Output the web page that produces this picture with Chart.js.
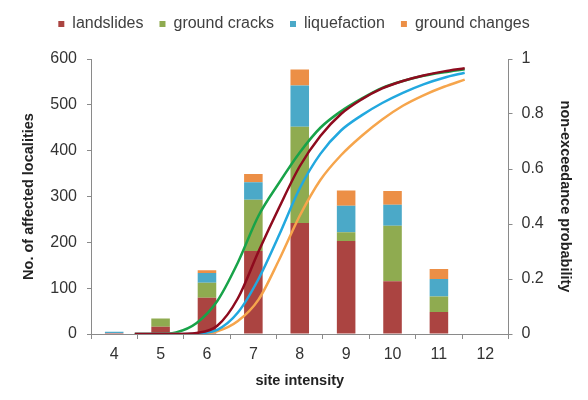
<!DOCTYPE html>
<html>
<head>
<meta charset="utf-8">
<title>site intensity</title>
<script src="https://cdn.jsdelivr.net/npm/chart.js@4.4.1/dist/chart.umd.min.js"></script>
<style>
html,body{margin:0;padding:0;background:#fff;}
#box{width:588px;height:400px;}
</style>
</head>
<body>
<div id="box"><canvas id="char0" width="588" height="400"></canvas></div>
<script>
// bars: affected localities per site intensity
var intensity = ['4','5','6','7','8','9','10','11','12'];
var landslides = [2,16,79,181,242,203,115,48,0];
var groundCracks = [0,18,33,112,210,19,121,34,0];
var liquefaction = [3,0,21,38,90,58,46,38,0];
var groundChanges = [0,0,6,18,35,33,30,22,0];

// curves: non-exceedance probability, read every half step
var curveX = [4,4.5,5,5.5,6,6.5,7,7.5,8,8.5,9,9.5,10,10.5,11,11.5,12];
var pLandslides = [0,0,0,0.004,0.03,0.13,0.30,0.46,0.61,0.72,0.80,0.853,0.893,0.92,0.94,0.955,0.966];
var pCracks = [0,0,0.006,0.04,0.12,0.26,0.43,0.55,0.66,0.75,0.81,0.856,0.895,0.92,0.939,0.952,0.963];
var pLiquefaction = [0,0,0,0.002,0.015,0.078,0.20,0.36,0.53,0.655,0.74,0.795,0.84,0.877,0.908,0.932,0.95];
var pChanges = [0,0,0,0.002,0.01,0.047,0.125,0.27,0.43,0.56,0.65,0.72,0.78,0.83,0.868,0.899,0.925];

Chart.defaults.font.family = "'Liberation Sans', Arial, sans-serif";

var pts = function(ys){  //把曲线值和x配对
    var a = [];
    for(var i=0;i<curveX.length;i++){
        a.push({x: curveX[i], y: ys[i]});
    }
    return a;
}

var axisGrey = '#8a8a8a';
var titleFont = {size: 14.5, weight: 'bold'};

//legend needs more room under it
var legendRoom = {
    id: 'legendRoom',
    beforeInit: function(chart){
        var fit = chart.legend.fit;
        chart.legend.fit = function(){
            fit.call(this);
            this.height += 17;
        };
    }
};

function bar(label, data, color){
    return {type: 'bar', label: label, data: data, backgroundColor: color, borderWidth: 0,
        stack: 'all', grouped: false,
        xAxisID: 'x', yAxisID: 'y', order: 2, barPercentage: 0.4, categoryPercentage: 1};
}
function curve(label, data, color){
    return {type: 'line', label: label, data: pts(data), borderColor: color, backgroundColor: color,
        borderWidth: 2.5, pointRadius: 0, fill: false, cubicInterpolationMode: 'monotone',
        xAxisID: 'xl', yAxisID: 'y1', order: 1};
}

var chart = new Chart(document.getElementById('char0'), {
    type: 'bar',
    data: {
        labels: intensity,
        datasets: [
            bar('landslides', landslides, '#ab4441'),
            bar('ground cracks', groundCracks, '#8fab50'),
            bar('liquefaction', liquefaction, '#4ba9c8'),
            bar('ground changes', groundChanges, '#ec8f46'),
            curve('landslides curve', pLandslides, '#8e0b1e'),
            curve('liquefaction curve', pLiquefaction, '#22a8df'),
            curve('ground changes curve', pChanges, '#f6a54c'),
            curve('ground cracks curve', pCracks, '#18a349')
        ]
    },
    options: {
        responsive: false,
        animation: false,
        layout: {padding: 0},
        plugins: {
            legend: {
                position: 'top',
                labels: {
                    boxWidth: 6, boxHeight: 6, padding: 16, color: '#404040',
                    font: {size: 16},
                    filter: function(item){ return item.datasetIndex < 4; }
                }
            },
            tooltip: {enabled: false}
        },
        scales: {
            x: {
                stacked: true, offset: true,
                grid: {offset: true, drawOnChartArea: false, tickLength: 5, color: axisGrey},
                border: {color: axisGrey},
                ticks: {color: '#333', font: {size: 16}, padding: 6},
                title: {display: true, text: 'site intensity', font: titleFont, color: '#222', padding: {top: 0, bottom: 10}},
                afterFit: function(s){ s.height = 66; }
            },
            xl: {type: 'linear', display: false, min: 3.5, max: 12.5},
            y: {
                stacked: true, min: 0, max: 600,
                ticks: {stepSize: 100, color: '#333', font: {size: 16}, padding: 10},
                grid: {drawOnChartArea: false, tickLength: 4, color: axisGrey},
                border: {color: axisGrey},
                title: {display: true, text: 'No. of affected localities', font: titleFont, color: '#222', padding: {top: 20, bottom: 0}},
                afterFit: function(s){ s.width = 91; }
            },
            y1: {
                position: 'right', min: 0, max: 1,
                ticks: {
                    stepSize: 0.2, color: '#333', font: {size: 16}, padding: 9,
                    callback: function(v){ return String(+v.toFixed(1)); }
                },
                grid: {drawOnChartArea: false, tickLength: 4, color: axisGrey},
                border: {color: axisGrey},
                title: {display: true, text: 'non-exceedance probability', font: titleFont, color: '#222', padding: {top: 14, bottom: 0}},
                afterFit: function(s){ s.width = 79.5; }
            }
        }
    },
    plugins: [legendRoom]
});
</script>
</body>
</html>
